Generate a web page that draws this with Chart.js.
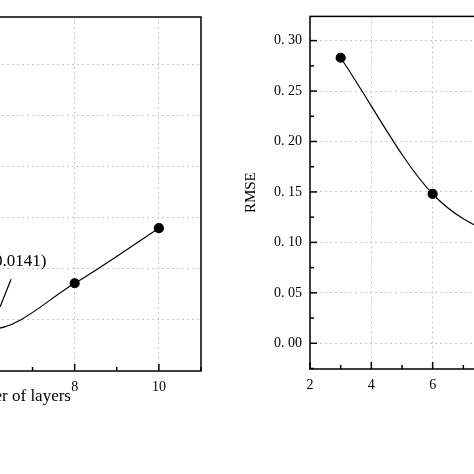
<!DOCTYPE html>
<html><head><meta charset="utf-8">
<script src="https://cdn.jsdelivr.net/npm/chart.js@4/dist/chart.umd.min.js"></script>
<style>
html,body{margin:0;padding:0;background:#fff;overflow:hidden;width:474px;height:474px;}
.w{position:absolute;top:0;height:474px;}
</style></head><body>
<div class="w" style="left:-238px;width:447px"><canvas id="c1"></canvas></div>
<div class="w" style="left:230px;width:364px"><canvas id="c2"></canvas></div>
<script>
const leftX = [2, 4, 6, 8, 10];
const leftY = [0.030, 0.021, 0.0141, 0.0186, 0.024];
const leftAnnotText = "(6, 0.0141)";
const leftAnnotAt = [7.33, 0.0207];
const leftLeader = [[6.23, 0.0163], [6.49, 0.019]];
const rightX = [3, 6, 9];
const rightY = [0.283, 0.148, 0.092];
const rightTicks = [0, 0.05, 0.10, 0.15, 0.20, 0.25, 0.30];
const font = "'Liberation Serif','DejaVu Serif',serif";

function boxTicks(opts){
  return {id:'bt',afterDraw(ch){
    const c=ch.ctx,a=ch.chartArea,xs=ch.scales.x,ys=ch.scales.y;
    c.save();c.strokeStyle='#000';c.lineWidth=1.5;
    c.strokeRect(a.left,a.top,a.right-a.left,a.bottom-a.top);
    for(let v=Math.ceil(xs.min);v<=xs.max;v++){const px=xs.getPixelForValue(v);const L=v%2==0?7:4;
      c.beginPath();c.moveTo(px,a.bottom);c.lineTo(px,a.bottom-L);c.stroke();}
    const st=opts.ystep;for(let v=Math.ceil(ys.min/st*2)*st/2;v<=ys.max+1e-9;v+=st/2){const py=ys.getPixelForValue(v);
      const L=Math.abs(Math.round(v/st)*st-v)<1e-9?7:4;
      c.beginPath();c.moveTo(a.left,py);c.lineTo(a.left+L,py);c.stroke();}
    if(opts.annot){c.fillStyle='#000';c.font="17px "+font;c.textAlign='right';c.textBaseline='middle';
      c.fillText(leftAnnotText,xs.getPixelForValue(leftAnnotAt[0]),ys.getPixelForValue(leftAnnotAt[1]));
      c.lineWidth=1.2;c.beginPath();c.moveTo(xs.getPixelForValue(leftLeader[0][0]),ys.getPixelForValue(leftLeader[0][1]));
      c.lineTo(xs.getPixelForValue(leftLeader[1][0]),ys.getPixelForValue(leftLeader[1][1]));c.stroke();}
    c.restore();}};
}
const gridCol = ctx => (ctx.tick && Math.abs(ctx.tick.value%2)<1e-9)?'#c8c8c8':'rgba(0,0,0,0)';
function mk(id,xs,ys,cfg){
  return new Chart(document.getElementById(id),{type:'line',
    data:{datasets:[{data:xs.map((x,i)=>({x,y:ys[i]})),borderColor:'#000',borderWidth:1.2,
      pointRadius:4.5,pointBackgroundColor:'#000',pointBorderColor:'#000',cubicInterpolationMode:'monotone'}]},
    options:{responsive:true,maintainAspectRatio:false,animation:false,
      layout:{padding:{top:cfg.top,bottom:cfg.pb,left:0,right:0}},
      plugins:{legend:{display:false},tooltip:{enabled:false}},
      scales:{
        x:{type:'linear',min:2,max:11,border:{display:false,dash:[2,3]},
          ticks:{stepSize:1,color:'#000',font:{family:font,size:14},padding:8,callback:v=>v%2==0?v:''},
          grid:{color:gridCol,drawTicks:false,tickLength:0,lineWidth:1},
          title:{display:cfg.showX,text:'Number of layers',color:'#000',font:{family:font,size:17},padding:{top:8}},
          afterFit(s){s.height=40;}},
        y:{type:'linear',min:cfg.ymin,max:cfg.ymax,border:{display:false,dash:[2,3]},
          afterBuildTicks(s){s.ticks=cfg.yticks.map(v=>({value:v}));},
          ticks:{color:'#000',font:{family:font,size:14},padding:8,callback:v=>v.toFixed(2).replace('.','. ')},
          grid:{color:'#c8c8c8',drawTicks:false,tickLength:0},
          title:{display:true,text:cfg.ytitle,color:'#000',font:{family:font,size:15},padding:{top:12}},
          afterFit(s){s.width=cfg.yw;}}}},
    plugins:[boxTicks({ystep:cfg.ystep,annot:cfg.annot})]});
}
mk('c1',leftX,leftY,{top:17,pb:63,ymin:0.01,ymax:0.0447,yticks:[0.015,0.02,0.025,0.03,0.035,0.04],ystep:0.005,
  yw:60,showX:true,ytitle:'MAE',annot:true});
mk('c2',rightX,rightY,{top:15,pb:65,ymin:-0.0255,ymax:0.324,yticks:rightTicks,ystep:0.05,
  yw:80,showX:false,ytitle:'RMSE',annot:false});
</script></body></html>
